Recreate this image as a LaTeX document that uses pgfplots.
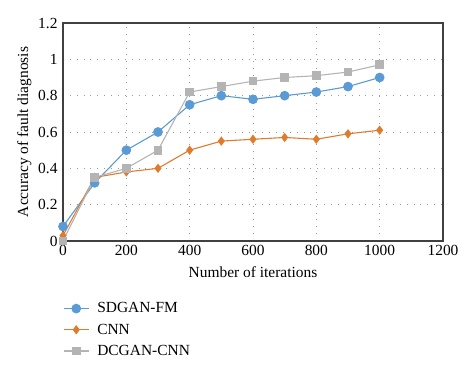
\documentclass[border=0pt]{standalone}
\usepackage{fontspec}
\setmainfont{Liberation Serif}
\usepackage{pgfplots}
\pgfplotsset{compat=1.18}
\definecolor{cblue}{HTML}{5B9BD5}
\definecolor{corange}{HTML}{E07B2E}
\definecolor{cgray}{HTML}{B4B4B4}
\definecolor{cframe}{HTML}{404040}
\begin{document}
\begin{tikzpicture}
\begin{axis}[
  scale only axis,
  width=380bp, height=218bp,
  xmin=0, xmax=1200, ymin=0, ymax=1.2,
  xtick={0,200,...,1200},
  ytick={0,0.2,...,1.2},
  yticklabels={0,0.2,0.4,0.6,0.8,1,1.2},
  major tick length=0pt,
  axis line style={cframe, line width=1.2pt},
  grid=major,
  major grid style={gray!80, line width=0.9pt, dash pattern=on 0.9pt off 6pt},
  /pgf/number format/assume math mode=true,
  /pgf/number format/1000 sep={},
  tick label style={font=\fontsize{15.5}{17}\selectfont, text=black},
  label style={font=\fontsize{15.5}{18}\selectfont},
  xlabel={Number of iterations},
  ylabel={Accuracy of fault diagnosis},
  xlabel style={yshift=-4pt},
  ylabel style={yshift=0pt},
  yticklabel style={xshift=-2pt},
  xticklabel style={yshift=-1pt},
  legend style={at={(0,-0.264)}, anchor=north west, draw=none, fill=none,
    font=\fontsize{15.5}{17}\selectfont, row sep=5.5pt, inner xsep=0pt},
  legend cell align=left,
  legend image code/.code={
    \draw[mark repeat=2,mark phase=2] plot coordinates {(0bp,0bp) (12.5bp,0bp) (25bp,0bp)};
    \path (31bp,0bp);},
  clip=false,
]
\addplot[cblue, line width=1.1pt, mark=*, mark size=4.3pt, mark options={fill=cblue, draw=cblue}]
coordinates {(0,0.08) (100,0.32) (200,0.5) (300,0.6) (400,0.75) (500,0.8) (600,0.78) (700,0.8) (800,0.82) (900,0.85) (1000,0.90)};
\addlegendentry{SDGAN-FM}
\addplot[corange, line width=1.1pt, mark=diamond*, mark size=3.8pt, mark options={fill=corange, draw=corange}]
coordinates {(0,0.03) (100,0.35) (200,0.38) (300,0.40) (400,0.50) (500,0.55) (600,0.56) (700,0.57) (800,0.56) (900,0.59) (1000,0.61)};
\addlegendentry{CNN}
\addplot[cgray, line width=1.1pt, mark=square*, mark size=3.8pt, mark options={fill=cgray, draw=cgray}]
coordinates {(0,0.0) (100,0.35) (200,0.40) (300,0.50) (400,0.82) (500,0.85) (600,0.88) (700,0.90) (800,0.91) (900,0.93) (1000,0.97)};
\addlegendentry{DCGAN-CNN}
\end{axis}
\pgfresetboundingbox
\path[use as bounding box] (-63bp,-131bp) rectangle (411bp,241bp);
\end{tikzpicture}
\end{document}
